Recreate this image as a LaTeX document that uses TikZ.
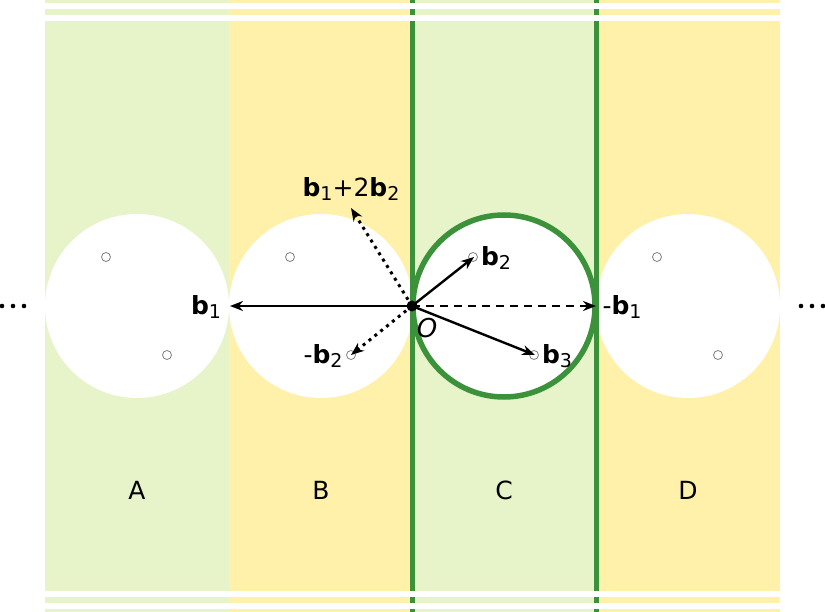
\documentclass[tikz,border=0pt]{standalone}
\usepackage{fontspec}
\setmainfont{DejaVu Sans}
\usetikzlibrary{arrows.meta}
\definecolor{gb}{HTML}{E7F4C9}
\definecolor{yb}{HTML}{FFF1AA}
\definecolor{gl}{HTML}{3B923B}
\newcommand{\bv}[1]{\textbf{b}{\fontsize{19}{20}\selectfont\raisebox{-4pt}{#1}}}
\begin{document}
\begin{tikzpicture}[x=1pt,y=-1pt,
  gband/.style={fill=gb},
  yband/.style={fill=yb},
  hole/.style={circle,draw=gray,line width=0.8pt,fill=white,minimum size=9pt,inner sep=0pt},
  vec/.style={-{Stealth[length=13pt,width=10pt]},line width=2.4pt},
  lbl/.style={font=\fontsize{25}{28}\selectfont}]
\useasboundingbox (0,0) rectangle (825,612);
\fill[gband] (45,0) rectangle (229,612);
\fill[yband] (229,0) rectangle (412,612);
\fill[gband] (412,0) rectangle (596,612);
\fill[yband] (596,0) rectangle (780,612);
\foreach \c in {137,321,504,688} \fill[white] (\c,306) circle (92);
\draw[gl,line width=5pt] (412,0) -- (412,612) (596,0) -- (596,612);
\draw[gl,line width=5.5pt] (504,306) circle (91);
\foreach \y in {3.3,15,591,603} \fill[white] (45,\y) rectangle (780,\y+5.7);
\foreach \c in {137,321,504,688} {
  \node[hole] at (\c-31,257) {};
  \node[hole] at (\c+30,355) {};
}
\node[circle,fill=black,inner sep=0pt,minimum size=11pt] (O) at (412,306) {};
\node[lbl,font=\fontsize{26}{28}\selectfont\itshape] at (427,328) {O};
\coordinate (b1) at (230,306);
\coordinate (mb1) at (596,306);
\coordinate (b2) at (474,257);
\coordinate (b3) at (535,355);
\coordinate (mb2) at (351,355);
\coordinate (bb) at (351,208);
\draw[vec] (O.center) -- (b1);
\draw[vec,dash pattern=on 8pt off 6pt] (O.center) -- (mb1);
\draw[vec] (O.center) -- (b2);
\draw[vec] (O.center) -- (b3);
\draw[vec,line width=3pt,dash pattern=on 3pt off 4.5pt] (O.center) -- (mb2);
\draw[vec,line width=3pt,dash pattern=on 3pt off 4.5pt] (O.center) -- (bb);
\node[lbl] at (206,307) {\bv1};
\node[lbl] at (622,307) {-\bv1};
\node[lbl] at (496,258) {\bv2};
\node[lbl] at (557,356) {\bv3};
\node[lbl] at (323,356) {-\bv2};
\node[lbl] at (351,189) {\bv1+2\bv2};
\node[lbl] at (137,490) {A};
\node[lbl] at (321,490) {B};
\node[lbl] at (504,490) {C};
\node[lbl] at (688,490) {D};
\foreach \x in {0,11,22,799,810,821} \fill (\x+2,306) circle (2.3);
\end{tikzpicture}
\end{document}
